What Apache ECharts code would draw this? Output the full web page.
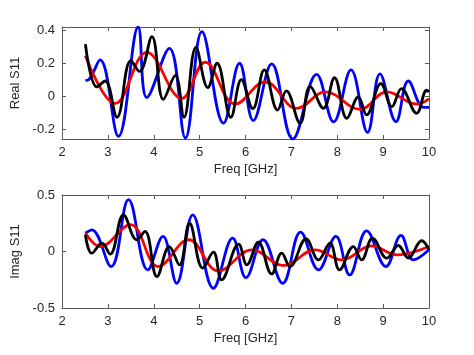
<!DOCTYPE html>
<html><head><meta charset="utf-8">
<script src="https://cdn.jsdelivr.net/npm/echarts@6/dist/echarts.min.js"></script>
<style>html,body{margin:0;padding:0;background:#fff}#c{width:474px;height:355px}</style>
</head><body><div id="c"></div>
<script>
// Real S11
const realBlueF = [2.51,2.58,2.83,3.23,3.66,3.85,4.34,4.69,5.05,5.52,5.87,6.17,6.57,7.03,7.55,7.92,8.30,8.66,8.93,9.28,9.55,9.88,10];
const realBlueV = [0.096,0.10,0.22,-0.244,0.42,-0.008,0.29,-0.254,0.392,-0.164,0.20,-0.148,0.196,-0.26,0.132,-0.156,0.16,-0.22,0.136,-0.154,0.092,-0.068,-0.068];
const realRedF = [2.51,3.16,3.85,4.61,5.12,5.78,6.43,7.12,7.74,8.50,9.08,9.73,10];
const realRedV = [0.246,-0.044,0.266,-0.014,0.206,-0.048,0.086,-0.074,0.026,-0.08,0.026,-0.048,-0.016];
const realBlackF = [2.51,2.76,2.94,3.20,3.50,3.69,3.96,4.21,4.47,4.66,4.92,5.18,5.38,5.68,5.91,6.16,6.41,6.70,6.89,7.19,7.41,7.70,7.94,8.21,8.46,8.64,8.95,9.19,9.40,9.73,9.95,10];
const realBlackV = [0.316,0.056,0.092,-0.128,0.216,0.15,0.362,-0.02,0.126,-0.128,0.296,0.052,0.20,-0.128,0.10,-0.076,0.16,-0.084,0.032,-0.164,0.06,-0.074,0.112,-0.134,-0.004,-0.114,0.076,-0.064,0.046,-0.104,0.036,0.026];
// Imag S11
const imagBlueF = [2.51,2.65,3.07,3.45,3.87,4.20,4.50,4.85,5.30,5.72,6.01,6.38,6.81,7.20,7.59,7.97,8.27,8.64,9.06,9.39,9.66,10];
const imagBlueV = [0.163,0.192,-0.133,0.459,-0.163,0.133,-0.281,0.325,-0.325,0.118,-0.231,0.104,-0.281,0.172,-0.163,0.133,-0.207,0.183,-0.133,0.142,-0.074,0.015];
const imagRedF = [2.51,2.83,3.49,4.10,4.76,5.41,6.14,6.83,7.52,8.10,8.75,9.30,10];
const imagRedV = [0.163,0.044,0.237,-0.133,0.104,-0.172,0.015,-0.124,0.015,-0.074,0.05,-0.03,0.044];
const imagBlackF = [2.51,2.65,2.87,3.05,3.34,3.63,3.81,4.07,4.34,4.56,4.78,5.07,5.30,5.48,5.85,6.03,6.28,6.57,6.79,6.97,7.32,7.59,7.84,8.05,8.35,8.53,8.77,9.08,9.33,9.55,9.84,10];
const imagBlackV = [0.148,-0.015,0.074,-0.024,0.325,0.104,0.178,-0.222,0.044,-0.118,0.25,-0.148,-0.006,-0.25,0.065,-0.118,0.083,-0.198,-0.015,-0.133,0.112,-0.074,0.074,-0.163,0.044,-0.074,0.118,-0.059,0.053,-0.059,0.095,0.015];
// ticks
const xTicks = [2,3,4,5,6,7,8,9,10];
const realTicks = [-0.2,0,0.2,0.4];
const imagTicks = [-0.5,0,0.5];

const zip = (f,v) => f.map((x,i)=>[x,v[i]]);
const FONT = '"Liberation Sans", Arial, sans-serif';
const AX = '#5a5a5a';
const TXT = '#262626';

function xAx(gi, pos, labels) {
  return {
    type:'value', gridIndex:gi, position:pos, min:2, max:10, interval:1,
    name: labels ? 'Freq [GHz]' : '', nameLocation:'middle', nameGap:24,
    nameTextStyle:{color:TXT,fontSize:13,fontFamily:FONT},
    axisLine:{show:true,onZero:false,lineStyle:{color:AX,width:1}},
    axisTick:{show:true,inside:true,length:4,lineStyle:{color:AX},customValues:xTicks},
    axisLabel:{show:labels,color:TXT,fontSize:13,fontFamily:FONT,margin:7,customValues:xTicks},
    splitLine:{show:false}
  };
}
function yAx(gi, pos, labels, mn, mx, ticks, name) {
  return {
    type:'value', gridIndex:gi, position:pos, min:mn, max:mx,
    name: labels ? name : '', nameLocation:'middle', nameGap:29,
    nameTextStyle:{color:TXT,fontSize:13,fontFamily:FONT},
    axisLine:{show:true,onZero:false,lineStyle:{color:AX,width:1}},
    axisTick:{show:true,inside:true,length:4,lineStyle:{color:AX},customValues:ticks},
    axisLabel:{show:labels,color:TXT,fontSize:13,fontFamily:FONT,margin:7,customValues:ticks,
      formatter:v=>Math.abs(v)<1e-9?'0':String(+v.toFixed(1))},
    splitLine:{show:false}
  };
}
function ser(xi, yi, data, color) {
  return {type:'line', xAxisIndex:xi, yAxisIndex:yi, data, smooth:0.4, symbol:'none',
    lineStyle:{color, width:2.8}, clip:true, animation:false};
}

const chart = echarts.init(document.getElementById('c'), null, {renderer:'canvas'});
chart.setOption({
  animation:false,
  backgroundColor:'#fff',
  grid:[
    {left:62, right:45, top:27, height:112},
    {left:62, right:45, top:195, height:113}
  ],
  xAxis:[xAx(0,'bottom',true), xAx(0,'top',false), xAx(1,'bottom',true), xAx(1,'top',false)],
  yAxis:[
    yAx(0,'left',true,-0.26,0.42,realTicks,'Real S11'), yAx(0,'right',false,-0.26,0.42,realTicks,''),
    yAx(1,'left',true,-0.5,0.5,imagTicks,'Imag S11'), yAx(1,'right',false,-0.5,0.5,imagTicks,'')
  ],
  series:[
    ser(0,0,zip(realBlueF,realBlueV),'#0000ff'),
    ser(0,0,zip(realRedF,realRedV),'#ff0000'),
    ser(0,0,zip(realBlackF,realBlackV),'#000000'),
    ser(2,2,zip(imagBlueF,imagBlueV),'#0000ff'),
    ser(2,2,zip(imagRedF,imagRedV),'#ff0000'),
    ser(2,2,zip(imagBlackF,imagBlackV),'#000000')
  ]
});
</script></body></html>
